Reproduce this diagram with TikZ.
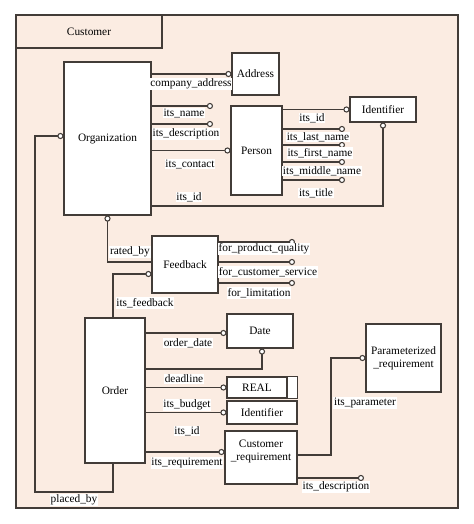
\documentclass[tikz,border=0pt]{standalone}
\usepackage{fontspec}
\setmainfont{Liberation Serif}
\usepackage{tikz}
\usetikzlibrary{arrows.meta}
\definecolor{peach}{RGB}{251,236,226}
\definecolor{edge}{RGB}{66,60,56}
\tikzset{
    entity/.style={draw=edge, fill=white, line width=0.8pt, inner sep=1pt},
    rel/.style={fill=white, inner sep=0.6pt},
    plain/.style={draw=edge, line width=0.8pt},
    link/.style={plain, -{Circle[fill=white, length=4.6pt]}},
    every node/.style={font=\fontsize{8.5}{9.75}\selectfont},
}

\begin{document}
\begin{tikzpicture}[x=0.75pt, y=-0.75pt]
\useasboundingbox (0,0) rectangle (474,524);
\draw[plain, fill=peach] (16,15) rectangle (458,508);
\node[draw=edge, line width=0.8pt, minimum width=109.5pt, minimum height=24.75pt] (cust) at (89,31.5) {Customer};

% entities
\node[entity, minimum width=65.25pt, minimum height=114.75pt] (org) at (107.5,138.5) {Organization};
\node[entity, minimum width=35.25pt, minimum height=31.5pt] (addr) at (255.5,74) {Address};
\node[entity, minimum width=38.25pt, minimum height=66.75pt] (pers) at (256.5,150.5) {Person};
\node[entity, minimum width=49.5pt, minimum height=18.75pt] (ident) at (383,109.5) {Identifier};
\node[entity, minimum width=49.5pt, minimum height=42.75pt] (fb) at (185,264.5) {Feedback};
\node[entity, minimum width=45pt, minimum height=108.75pt] (ord) at (115,390.5) {Order};
\node[entity, minimum width=49.5pt, minimum height=25.5pt] (date) at (260,331) {Date};
\node[entity, minimum width=45pt, minimum height=15.75pt] (real) at (257,387.5) {REAL};
\draw[plain, fill=white] (real.north east) rectangle ([xshift=7.5pt]real.south east);
\node[entity, minimum width=52.5pt, minimum height=17.25pt] (idb) at (262,412.5) {Identifier};
\node[entity, minimum width=54pt, minimum height=39.75pt] (creq) at (261,457.5) {};
\node[align=center] (creqtxt) at (261,451) {Customer\\\_requirement};
\node[entity, minimum width=56.25pt, minimum height=51pt, align=center] (param) at (403.5,358) {Parameterized\\\_requirement};

% free ends
\coordinate (oname) at (213,106);
\coordinate (odesc) at (213,124);
\coordinate (plast) at (345,129);
\coordinate (pfirst) at (345,145);
\coordinate (pmiddle) at (345,162);
\coordinate (ptitle) at (345,180);
\coordinate (fqual) at (295,242);
\coordinate (fserv) at (295,262);
\coordinate (flim) at (295,283);
\coordinate (cdesc) at (364,478);

% Organization
\draw[link] (org.east |- addr.west) -- (addr.west);
\draw[link] (org.east |- oname) -- (oname);
\draw[link] (org.east |- odesc) -- (odesc);
\draw[link] (org.east |- pers.west) -- (pers.west);
\draw[link] (org.east |- 0,206) -| (ident.south);
\draw[link] (fb.west |- 0,262) -| (org.south);
\draw[link] ([xshift=-1.5pt]ord.south) |- (35,492) |- (org.west |- 0,136);

% Person
\draw[link] (pers.east |- ident.west) -- (ident.west);
\draw[link] (pers.east |- plast) -- (plast);
\draw[link] (pers.east |- pfirst) -- (pfirst);
\draw[link] (pers.east |- pmiddle) -- (pmiddle);
\draw[link] (pers.east |- ptitle) -- (ptitle);

% Feedback
\draw[link] (fb.east |- fqual) -- (fqual);
\draw[link] (fb.east |- fserv) -- (fserv);
\draw[link] (fb.east |- flim) -- (flim);
\draw[link] ([xshift=-1.5pt]ord.north) |- (fb.west |- 0,274);

% Order
\draw[link] (ord.east |- 0,333) -- (date.west |- 0,333);
\draw[link] (ord.east |- 0,369) -| ([xshift=1.5pt]date.south);
\draw[link] (ord.east |- real.west) -- (real.west);
\draw[link] (ord.east |- idb.west) -- (idb.west);
\draw[link] (ord.east |- 0,452) -- (creq.west |- 0,452);
\draw[link] (creq.east |- 0,455) -- (331,455) |- (param.west);
\draw[link] (creq.east |- cdesc) -- (cdesc);

% labels
\node[rel] (l-caddr) at (191,84) {company\_address};
\node[rel] (l-oname) at (184,113) {its\_name};
\node[rel] (l-odesc) at (186,134) {its\_description};
\node[rel] (l-ocont) at (190,164) {its\_contact};
\node[rel] (l-oid) at (189,197) {its\_id};
\node[rel] (l-rated) at (130,252) {rated\_by};
\node[rel] (l-placed) at (74,500) {placed\_by};
\node[rel] (l-pid) at (312,118) {its\_id};
\node[rel] (l-plast) at (318,137) {its\_last\_name};
\node[rel] (l-pfirst) at (320,153) {its\_first\_name};
\node[rel] (l-pmiddle) at (322,171) {its\_middle\_name};
\node[rel] (l-ptitle) at (316,193) {its\_title};
\node[rel] (l-fqual) at (264,249) {for\_product\_quality};
\node[rel] (l-fserv) at (268,272) {for\_customer\_service};
\node[rel] (l-flim) at (259,293) {for\_limitation};
\node[rel] (l-ofb) at (145,303) {its\_feedback};
\node[rel] (l-odate) at (188,343) {order\_date};
\node[rel] (l-dead) at (184,379) {deadline};
\node[rel] (l-budget) at (187,405) {its\_budget};
\node[rel] (l-ordid) at (187,431) {its\_id};
\node[rel] (l-req) at (187,463) {its\_requirement};
\node[rel] (l-param) at (365,403) {its\_parameter};
\node[rel] (l-cdesc) at (336,487) {its\_description};
\end{tikzpicture}
\end{document}
